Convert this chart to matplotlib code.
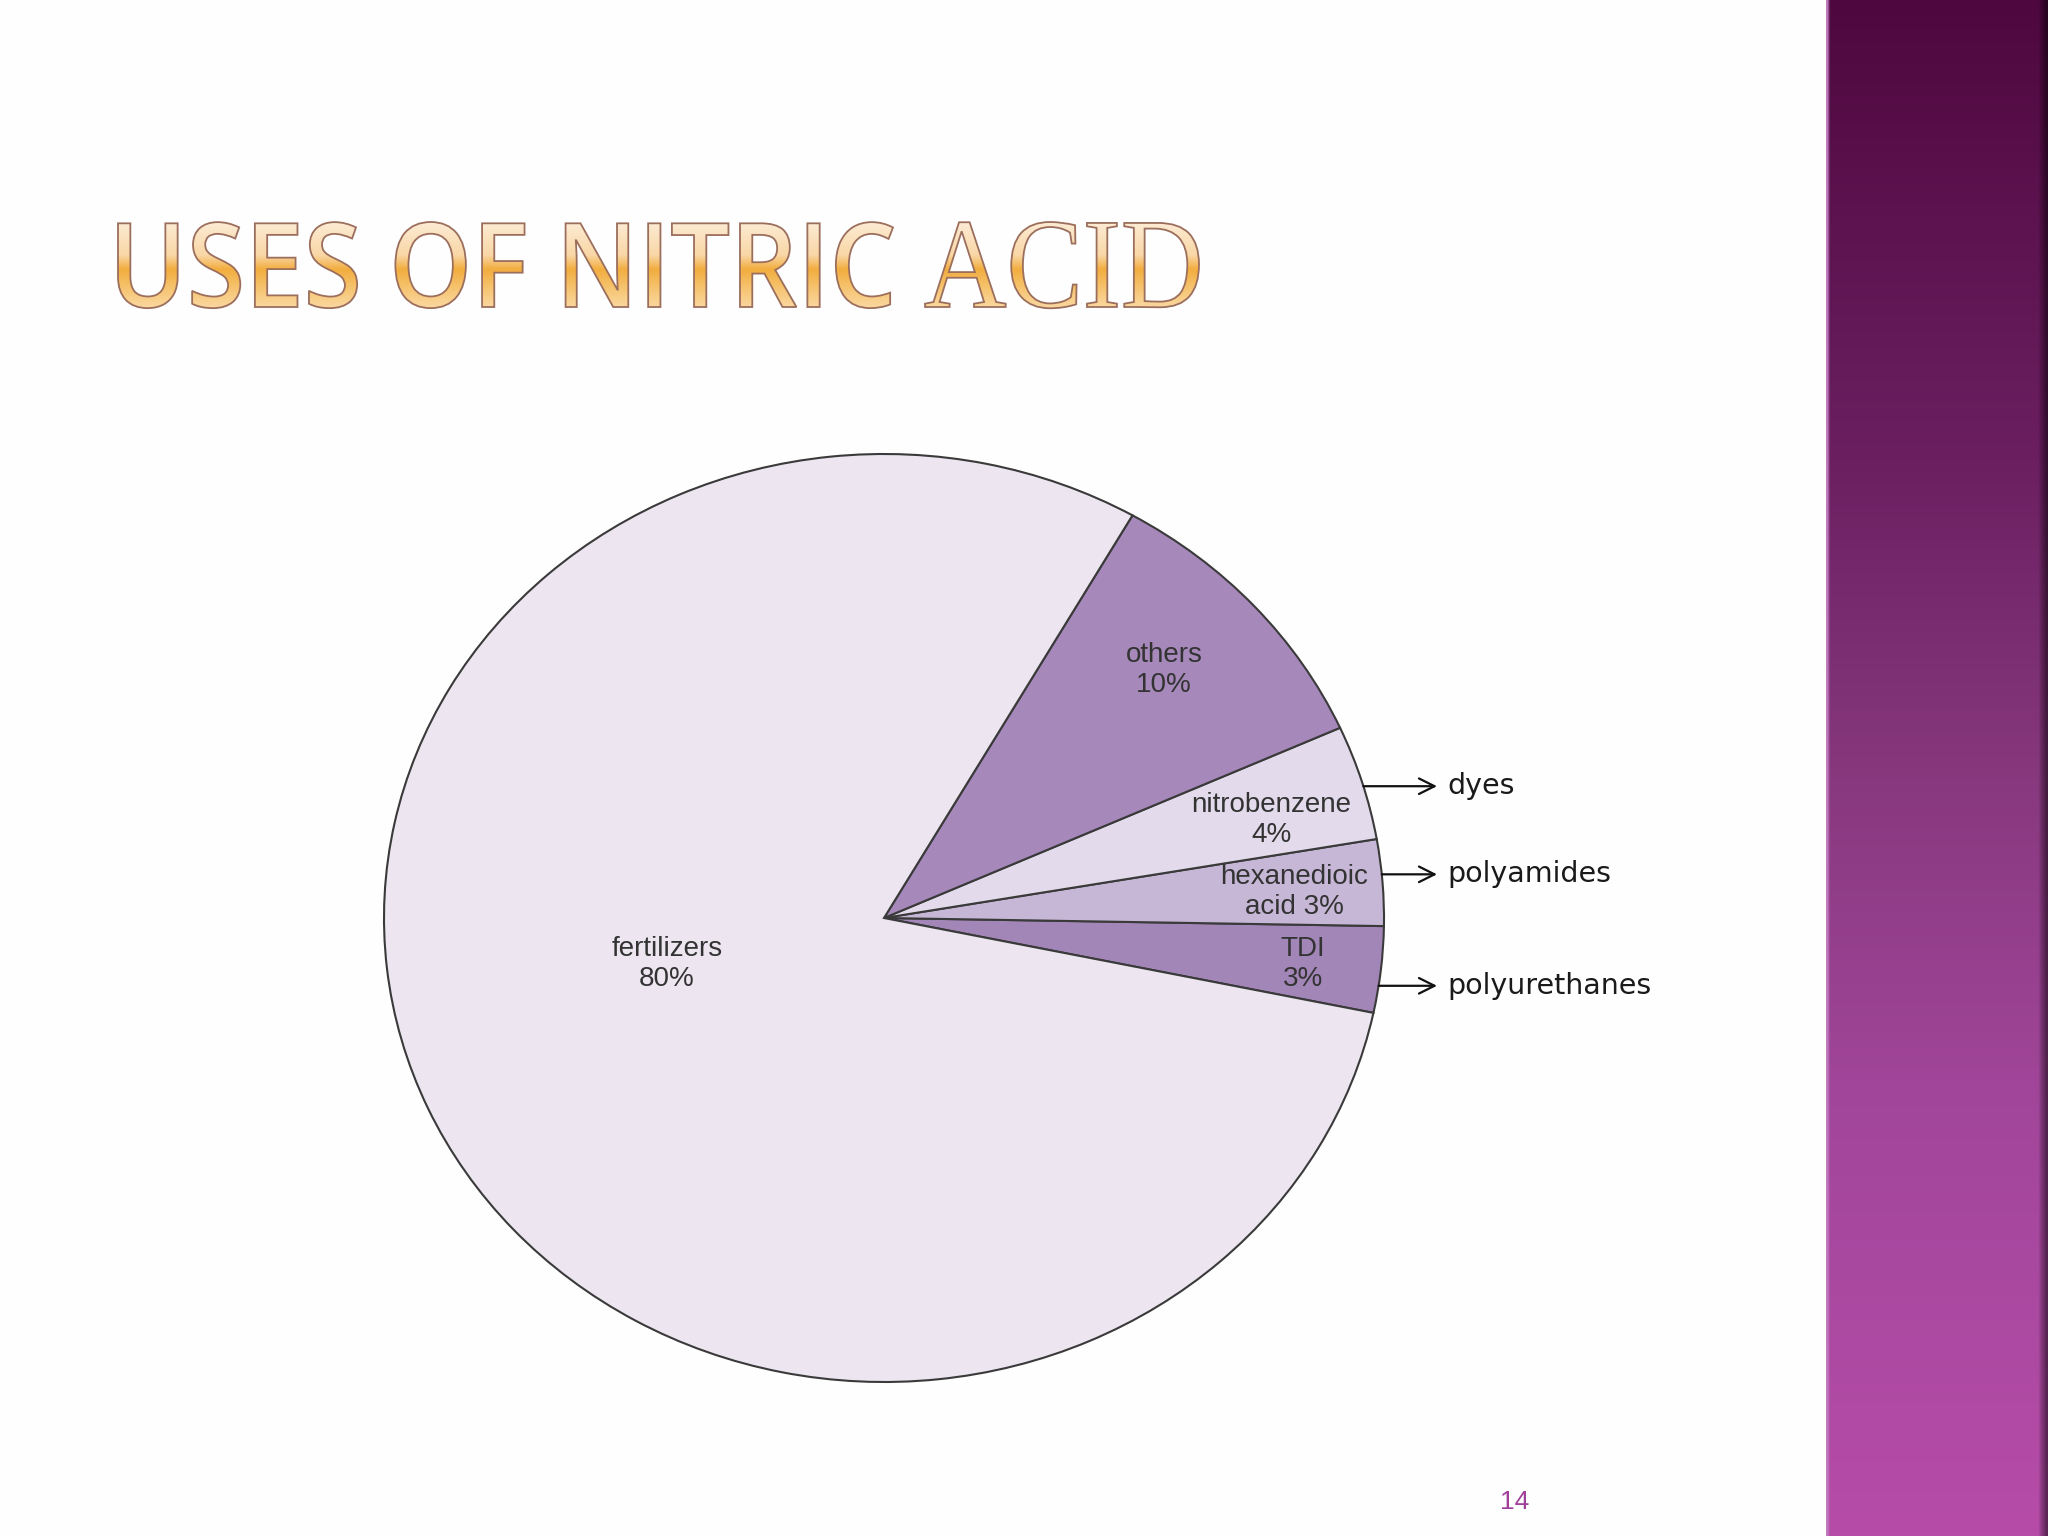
import numpy as np
import matplotlib
matplotlib.use('Agg')
import matplotlib.pyplot as plt
from matplotlib.textpath import TextPath
from matplotlib.patches import PathPatch
from matplotlib.font_manager import FontProperties
from matplotlib.colors import LinearSegmentedColormap, to_rgb
from matplotlib.transforms import Affine2D

# data (counter-clockwise from the right side of the pie)
uses = ['TDI', 'hexanedioic acid', 'nitrobenzene', 'others', 'fertilizers']
shares = [3, 3, 4, 10, 80]
slice_labels = ['TDI\n3%', 'hexanedioic\nacid 3%', 'nitrobenzene\n4%',
                'others\n10%', 'fertilizers\n80%']
products = ['polyurethanes', 'polyamides', 'dyes']  # made from TDI, hexanedioic acid, nitrobenzene
product_src = [0, 1, 2]

slice_colors = ['#a386b8', '#c7b7d6', '#e3daeb', '#a689ba', '#ede6f1']
label_pos = [(0.838, -0.10), (0.82, 0.055), (0.774, 0.212), (0.56, 0.535), (-0.434, -0.10)]
arrow_tweak = [-2.0, 1.0, -0.5]

W, H = 2048, 1536
fig = plt.figure(figsize=(W / 100, H / 100), dpi=100)
fig.patch.set_facecolor('#fefefe')

# background layer in pixel units
bg = fig.add_axes([0, 0, 1, 1], zorder=-1)
bg.set_xlim(0, W)
bg.set_ylim(0, H)
bg.axis('off')

# purple side bar
stops = [(0.0, '#4f083f'), (0.3, '#6b1f61'), (0.5, '#87387d'), (0.72, '#a2469b'), (1.0, '#b64ca8')]
vmap = LinearSegmentedColormap.from_list('bar', stops)
rows = vmap(np.linspace(0, 1, 256))[:, :3]
cols = np.ones(80)
cols[-3:] = [0.8, 0.65, 0.5]
bar = rows[:, None, :] * cols[None, :, None]
bar[:, 0, :] = to_rgb('#c27ac0')
bg.imshow(bar, extent=[1826, W, 0, H], aspect='auto', origin='upper', interpolation='bilinear')

# title with gradient fill
tmap = LinearSegmentedColormap.from_list('title', [(0.0, '#fdeedb'), (0.4, '#f9d7a6'),
                                                    (0.55, '#f2ad3e'), (0.75, '#f6c470'),
                                                    (1.0, '#fbdcab')])
grad = tmap(np.linspace(0, 1, 200))[:, None, :3]
ytop, ybase = H - 222, H - 307


def title_part(text, prop, x0, x1):
    tp = TextPath((0, 0), text, size=100, prop=prop)
    ext = tp.get_extents()
    sx = (x1 - x0) / ext.width
    sy = (ytop - ybase) / ext.y1
    tp = Affine2D().scale(sx, sy).translate(x0 - ext.x0 * sx, ybase).transform_path(tp)
    outline = PathPatch(tp, facecolor='none', edgecolor='#9c6e5c', linewidth=1.3, zorder=3)
    bg.add_patch(outline)
    im = bg.imshow(grad, extent=[x0 - 5, x1 + 5, ybase - 5, ytop + 5], aspect='auto',
                   origin='upper', zorder=2)
    im.set_clip_path(outline)


title_part('USES OF NITRIC', FontProperties(family=['Open Sans', 'DejaVu Sans'], weight=600), 118, 893)
title_part('ACID', FontProperties(family='Liberation Serif'), 925, 1199)

bg.text(1515, H - 1502, '14', color='#a0409a', fontsize=19, ha='center', va='center',
        family='Liberation Sans')

# pie
cx, cy, rx, ry = 884, 918, 500, 464
lim = 1.1
ax = fig.add_axes([(cx - rx * lim) / W, (H - cy - ry * lim) / H, 2 * rx * lim / W, 2 * ry * lim / H])
ax.patch.set_alpha(0)
wedges, _ = ax.pie(shares, colors=slice_colors, startangle=-11.8, counterclock=True,
                   wedgeprops=dict(edgecolor='#3a3a3a', linewidth=1.5))
ax.set_aspect('auto')
ax.set_xlim(-lim, lim)
ax.set_ylim(-lim, lim)

for (x, y), lab in zip(label_pos, slice_labels):
    ax.text(x, y, lab, ha='center', va='center', fontsize=20, color='#333333',
            family='Liberation Sans', linespacing=1.2)

for name, src, tw in zip(products, product_src, arrow_tweak):
    w = wedges[src]
    a = np.deg2rad((w.theta1 + w.theta2) / 2 + tw)
    sx0, sy0 = np.cos(a), np.sin(a)
    ax.annotate('', xy=(1.106, sy0), xytext=(sx0, sy0), annotation_clip=False,
                arrowprops=dict(arrowstyle='->', color='#111111', lw=1.6,
                                mutation_scale=28, shrinkA=0, shrinkB=0))
    ax.text(1.126, sy0, name, ha='left', va='center', fontsize=20.5, color='#1a1a1a',
            family='DejaVu Sans')

fig.savefig('out.png', dpi=100)
